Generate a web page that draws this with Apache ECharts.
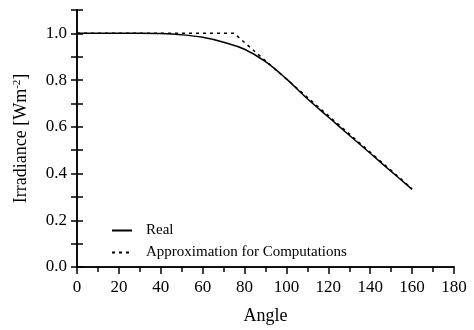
<!DOCTYPE html>
<html>
<head>
<meta charset="utf-8">
<script src="https://cdn.jsdelivr.net/npm/echarts@6/dist/echarts.min.js"></script>
<style>html,body{margin:0;padding:0;background:#fff}#c{width:474px;height:330px}</style>
</head>
<body>
<div id="c"></div>
<script>
const realAngles = [0, 10, 20, 30, 40, 50, 60, 70, 80, 90, 100, 110, 120, 130, 140, 150, 160];
const realValues = [1.0, 1.0, 1.0, 1.0, 0.999, 0.994, 0.983, 0.962, 0.932, 0.879, 0.805, 0.72, 0.642, 0.564, 0.487, 0.409, 0.332];
const approxAngles = [0, 75, 160];
const approxValues = [1.0, 1.0, 0.335];
const seriesNames = ['Real', 'Approximation for Computations'];

const FONT = '"Liberation Serif", "DejaVu Serif", serif';
const chart = echarts.init(document.getElementById('c'), null, {renderer: 'canvas'});
const axisLine = {show: true, lineStyle: {color: '#000', width: 1.5}};
chart.setOption({
  animation: false,
  backgroundColor: '#fff',
  grid: {left: 77, right: 20, top: 10, bottom: 62, containLabel: false},
  legend: {
    orient: 'vertical', left: 106, top: 218,
    itemWidth: 20, itemHeight: 14, itemGap: 7,
    itemStyle: {opacity: 0},
    textStyle: {fontFamily: FONT, fontSize: 15, color: '#000', padding: [0, 0, 0, 9]},
    data: seriesNames
  },
  xAxis: [{
    type: 'value', min: 0, max: 180, interval: 20,
    name: 'Angle', nameLocation: 'middle', nameGap: 40,
    nameTextStyle: {fontFamily: FONT, fontSize: 18, color: '#000'},
    axisLine: axisLine,
    axisTick: {show: true, inside: false, length: 7, lineStyle: {color: '#000', width: 1.5}},
    minorTick: {show: true, splitNumber: 2, length: 5, lineStyle: {color: '#000', width: 1.5}},
    axisLabel: {fontFamily: FONT, fontSize: 17, color: '#000', margin: 12},
    splitLine: {show: false}
  }, {
    type: 'value', position: 'top', min: 0, max: 180,
    axisLine: axisLine, axisTick: {show: false}, axisLabel: {show: false}, splitLine: {show: false}
  }],
  yAxis: [{
    type: 'value', min: 0, max: 1.1, interval: 0.2,
    name: '{n|Irradiance [Wm}{s|-2}{n|]}', nameLocation: 'middle', nameGap: 46,
    nameTextStyle: {fontFamily: FONT, fontSize: 18, color: '#000',
      rich: {n: {fontFamily: FONT, fontSize: 18, color: '#000'},
             s: {fontFamily: FONT, fontSize: 11, color: '#000', verticalAlign: 'top', padding: [0, 0, 8, 0]}}},
    axisLine: axisLine,
    axisTick: {show: true, length: 6, lineStyle: {color: '#000', width: 1.5}},
    minorTick: {show: true, splitNumber: 2, length: 6, lineStyle: {color: '#000', width: 1.5}},
    axisLabel: {fontFamily: FONT, fontSize: 17, color: '#000', margin: 10, showMaxLabel: false,
      formatter: v => v.toFixed(1)},
    splitLine: {show: false}
  }, {
    type: 'value', position: 'right', min: 0, max: 1.1, interval: 0.1,
    axisLine: axisLine,
    axisTick: {show: true, length: 6, lineStyle: {color: '#000', width: 1.5}},
    axisLabel: {show: false}, splitLine: {show: false}
  }],
  series: [{
    name: seriesNames[0], type: 'line', showSymbol: false, symbol: 'none', smooth: 0.4,
    data: realAngles.map((a, i) => [a, realValues[i]]),
    lineStyle: {color: '#000', width: 1.5, type: 'solid'},
    itemStyle: {color: '#000'}
  }, {
    name: seriesNames[1], type: 'line', showSymbol: false, symbol: 'none',
    data: approxAngles.map((a, i) => [a, approxValues[i]]),
    lineStyle: {color: '#000', width: 1.5, type: [3, 4]},
    itemStyle: {color: '#000'}
  }]
});
</script>
</body>
</html>
